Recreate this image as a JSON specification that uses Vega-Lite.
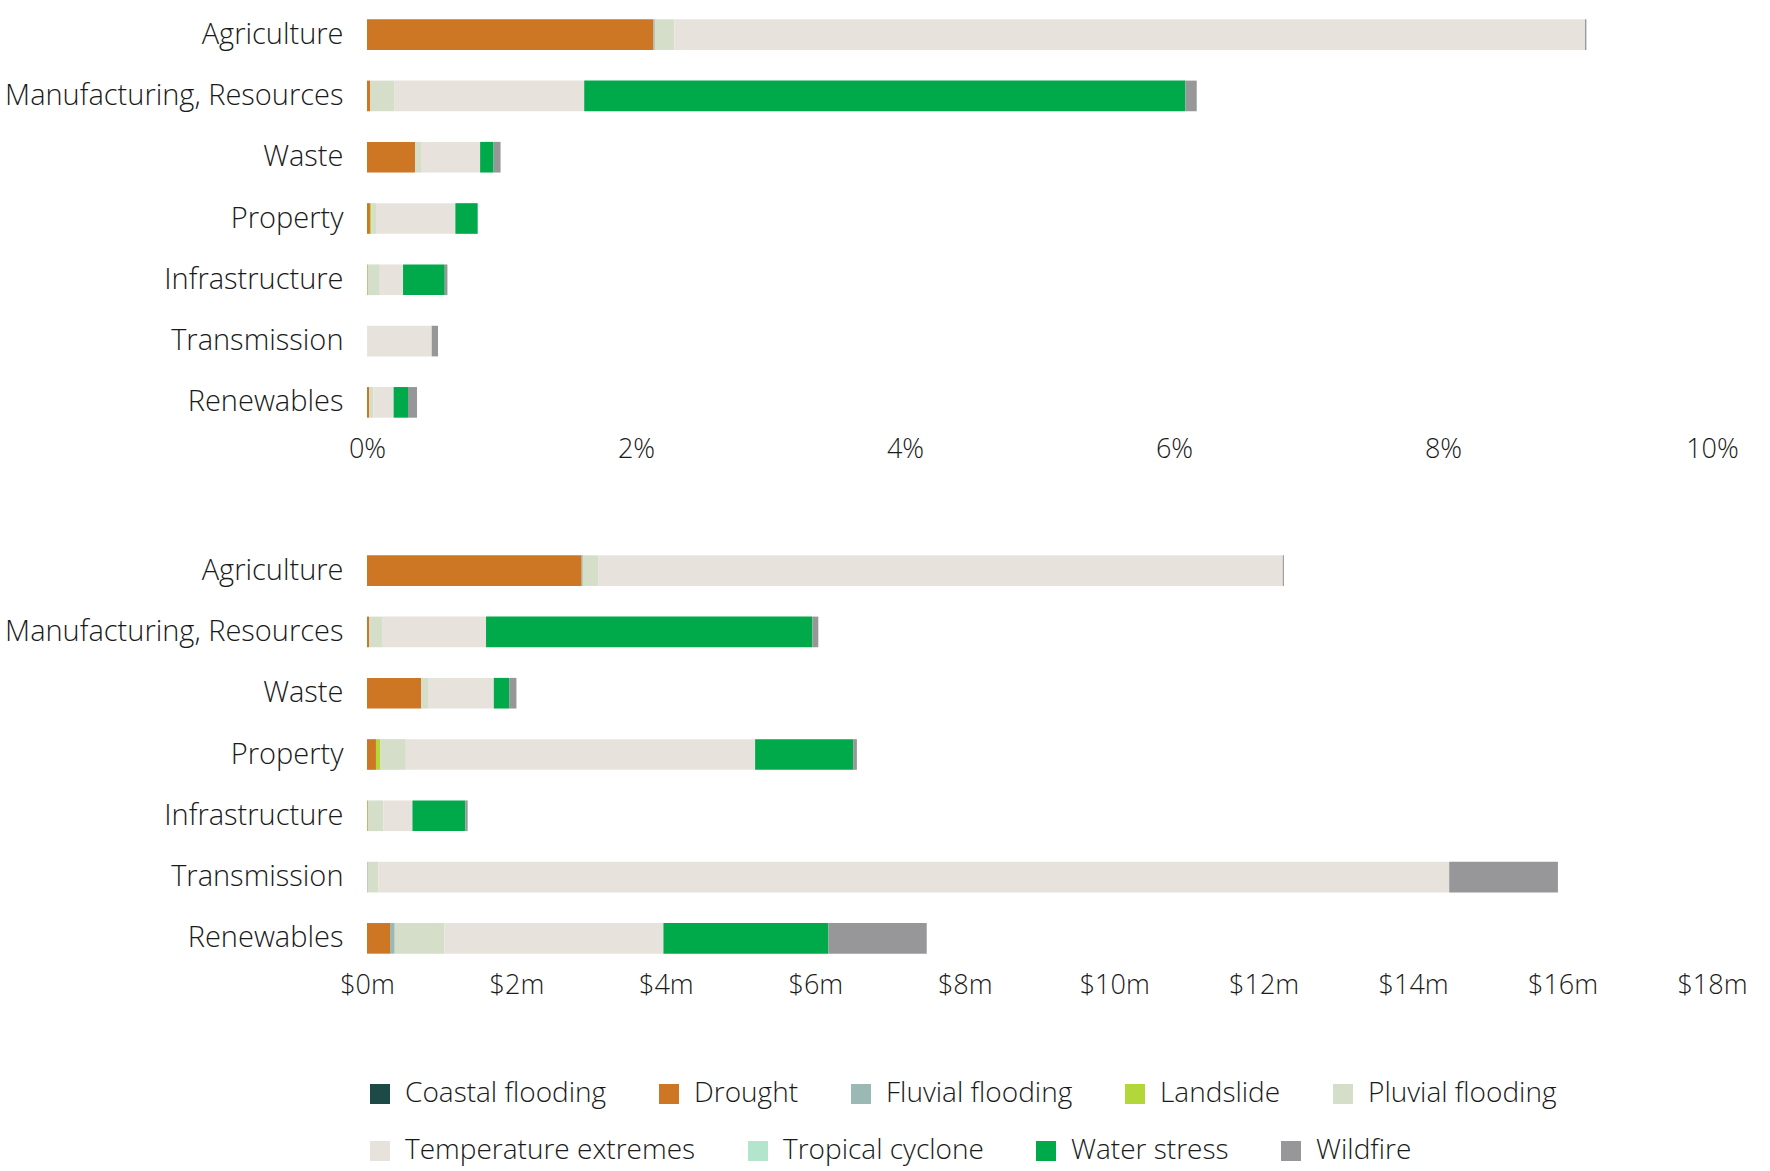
{
  "$schema": "https://vega.github.io/schema/vega-lite/v6.json",
  "padding": {"left": 4, "top": 4, "right": 0, "bottom": 14},
  "background": "white",
  "datasets": {
    "share": [
      {"sector": "Agriculture", "hazard": "Drought", "value": 2.13},
      {"sector": "Agriculture", "hazard": "Fluvial flooding", "value": 0.01},
      {"sector": "Agriculture", "hazard": "Pluvial flooding", "value": 0.146},
      {"sector": "Agriculture", "hazard": "Temperature extremes", "value": 6.77},
      {"sector": "Agriculture", "hazard": "Wildfire", "value": 0.01},
      {"sector": "Manufacturing, Resources", "hazard": "Drought", "value": 0.025},
      {"sector": "Manufacturing, Resources", "hazard": "Pluvial flooding", "value": 0.18},
      {"sector": "Manufacturing, Resources", "hazard": "Temperature extremes", "value": 1.41},
      {"sector": "Manufacturing, Resources", "hazard": "Water stress", "value": 4.47},
      {"sector": "Manufacturing, Resources", "hazard": "Wildfire", "value": 0.084},
      {"sector": "Waste", "hazard": "Drought", "value": 0.357},
      {"sector": "Waste", "hazard": "Pluvial flooding", "value": 0.05},
      {"sector": "Waste", "hazard": "Temperature extremes", "value": 0.434},
      {"sector": "Waste", "hazard": "Water stress", "value": 0.10},
      {"sector": "Waste", "hazard": "Wildfire", "value": 0.052},
      {"sector": "Property", "hazard": "Drought", "value": 0.022},
      {"sector": "Property", "hazard": "Landslide", "value": 0.01},
      {"sector": "Property", "hazard": "Pluvial flooding", "value": 0.035},
      {"sector": "Property", "hazard": "Temperature extremes", "value": 0.59},
      {"sector": "Property", "hazard": "Water stress", "value": 0.166},
      {"sector": "Infrastructure", "hazard": "Drought", "value": 0.005},
      {"sector": "Infrastructure", "hazard": "Pluvial flooding", "value": 0.09},
      {"sector": "Infrastructure", "hazard": "Temperature extremes", "value": 0.173},
      {"sector": "Infrastructure", "hazard": "Water stress", "value": 0.31},
      {"sector": "Infrastructure", "hazard": "Wildfire", "value": 0.02},
      {"sector": "Transmission", "hazard": "Pluvial flooding", "value": 0.005},
      {"sector": "Transmission", "hazard": "Temperature extremes", "value": 0.476},
      {"sector": "Transmission", "hazard": "Wildfire", "value": 0.047},
      {"sector": "Renewables", "hazard": "Drought", "value": 0.017},
      {"sector": "Renewables", "hazard": "Pluvial flooding", "value": 0.03},
      {"sector": "Renewables", "hazard": "Temperature extremes", "value": 0.151},
      {"sector": "Renewables", "hazard": "Water stress", "value": 0.107},
      {"sector": "Renewables", "hazard": "Wildfire", "value": 0.067}
    ],
    "cost": [
      {"sector": "Agriculture", "hazard": "Drought", "value": 2.873},
      {"sector": "Agriculture", "hazard": "Fluvial flooding", "value": 0.015},
      {"sector": "Agriculture", "hazard": "Pluvial flooding", "value": 0.205},
      {"sector": "Agriculture", "hazard": "Temperature extremes", "value": 9.163},
      {"sector": "Agriculture", "hazard": "Wildfire", "value": 0.015},
      {"sector": "Manufacturing, Resources", "hazard": "Drought", "value": 0.027},
      {"sector": "Manufacturing, Resources", "hazard": "Pluvial flooding", "value": 0.183},
      {"sector": "Manufacturing, Resources", "hazard": "Temperature extremes", "value": 1.383},
      {"sector": "Manufacturing, Resources", "hazard": "Water stress", "value": 4.367},
      {"sector": "Manufacturing, Resources", "hazard": "Wildfire", "value": 0.08},
      {"sector": "Waste", "hazard": "Drought", "value": 0.727},
      {"sector": "Waste", "hazard": "Pluvial flooding", "value": 0.09},
      {"sector": "Waste", "hazard": "Temperature extremes", "value": 0.88},
      {"sector": "Waste", "hazard": "Water stress", "value": 0.205},
      {"sector": "Waste", "hazard": "Wildfire", "value": 0.098},
      {"sector": "Property", "hazard": "Drought", "value": 0.12},
      {"sector": "Property", "hazard": "Landslide", "value": 0.06},
      {"sector": "Property", "hazard": "Pluvial flooding", "value": 0.339},
      {"sector": "Property", "hazard": "Temperature extremes", "value": 4.675},
      {"sector": "Property", "hazard": "Water stress", "value": 1.312},
      {"sector": "Property", "hazard": "Wildfire", "value": 0.05},
      {"sector": "Infrastructure", "hazard": "Drought", "value": 0.01},
      {"sector": "Infrastructure", "hazard": "Pluvial flooding", "value": 0.21},
      {"sector": "Infrastructure", "hazard": "Temperature extremes", "value": 0.388},
      {"sector": "Infrastructure", "hazard": "Water stress", "value": 0.709},
      {"sector": "Infrastructure", "hazard": "Wildfire", "value": 0.03},
      {"sector": "Transmission", "hazard": "Fluvial flooding", "value": 0.01},
      {"sector": "Transmission", "hazard": "Pluvial flooding", "value": 0.143},
      {"sector": "Transmission", "hazard": "Temperature extremes", "value": 14.33},
      {"sector": "Transmission", "hazard": "Wildfire", "value": 1.455},
      {"sector": "Renewables", "hazard": "Drought", "value": 0.308},
      {"sector": "Renewables", "hazard": "Fluvial flooding", "value": 0.063},
      {"sector": "Renewables", "hazard": "Pluvial flooding", "value": 0.665},
      {"sector": "Renewables", "hazard": "Temperature extremes", "value": 2.931},
      {"sector": "Renewables", "hazard": "Water stress", "value": 2.208},
      {"sector": "Renewables", "hazard": "Wildfire", "value": 1.316}
    ]
  },
  "spacing": 78,
  "resolve": {"scale": {"x": "independent"}},
  "vconcat": [
    {
      "width": 1345,
      "height": 429,
      "data": {"name": "share"},
      "mark": {"type": "bar"},
      "encoding": {
        "y": {
          "field": "sector", "type": "nominal",
          "sort": ["Agriculture", "Manufacturing, Resources", "Waste", "Property", "Infrastructure", "Transmission", "Renewables"],
          "scale": {"paddingInner": 0.5, "paddingOuter": 0.25},
          "axis": {"title": null}
        },
        "x": {
          "field": "value", "type": "quantitative", "stack": "zero",
          "scale": {"domain": [0, 10], "nice": false},
          "axis": {"title": null, "values": [0, 2, 4, 6, 8, 10], "labelExpr": "datum.value + '%'"}
        },
        "color": {
          "field": "hazard", "type": "nominal",
          "scale": {
            "domain": ["Coastal flooding", "Drought", "Fluvial flooding", "Landslide", "Pluvial flooding", "Temperature extremes", "Tropical cyclone", "Water stress", "Wildfire"],
            "range": ["#1d4a47", "#cd7724", "#9cb8b4", "#b3d63a", "#d4dec8", "#e8e2dc", "#b3e5cc", "#00a94a", "#97979a"]
          },
          "legend": {
            "title": null,
            "orient": "none",
            "legendX": -1,
            "legendY": 1076,
            "direction": "horizontal",
            "values": ["Coastal flooding", "Drought", "Fluvial flooding", "Landslide", "Pluvial flooding"],
            "columns": 5,
            "columnPadding": 48,
            "symbolType": "square",
            "symbolSize": 400,
            "symbolStrokeWidth": 0,
            "symbolOpacity": 1,
            "labelOffset": 11,
            "labelFontSize": 28,
            "labelLimit": 400,
            "padding": 0
          }
        },
        "order": {"field": "hazard", "sort": "ascending"}
      }
    },
    {
      "width": 1345,
      "height": 429,
      "data": {"name": "cost"},
      "mark": {"type": "bar"},
      "encoding": {
        "y": {
          "field": "sector", "type": "nominal",
          "sort": ["Agriculture", "Manufacturing, Resources", "Waste", "Property", "Infrastructure", "Transmission", "Renewables"],
          "scale": {"paddingInner": 0.5, "paddingOuter": 0.25},
          "axis": {"title": null}
        },
        "x": {
          "field": "value", "type": "quantitative", "stack": "zero",
          "scale": {"domain": [0, 18], "nice": false},
          "axis": {"title": null, "values": [0, 2, 4, 6, 8, 10, 12, 14, 16, 18], "labelExpr": "'$' + datum.value + 'm'"}
        },
        "fill": {
          "field": "hazard", "type": "nominal",
          "scale": {
            "domain": ["Temperature extremes", "Tropical cyclone", "Water stress", "Wildfire", "Coastal flooding", "Drought", "Fluvial flooding", "Landslide", "Pluvial flooding"],
            "range": ["#e8e2dc", "#b3e5cc", "#00a94a", "#97979a", "#1d4a47", "#cd7724", "#9cb8b4", "#b3d63a", "#d4dec8"]
          },
          "legend": {
            "title": null,
            "orient": "none",
            "legendX": -1,
            "legendY": 1133,
            "direction": "horizontal",
            "values": ["Temperature extremes", "Tropical cyclone", "Water stress", "Wildfire"],
            "columns": 4,
            "columnPadding": 48,
            "symbolType": "square",
            "symbolSize": 400,
            "symbolStrokeWidth": 0,
            "symbolOpacity": 1,
            "labelOffset": 11,
            "labelFontSize": 28,
            "labelLimit": 400,
            "padding": 0
          }
        },
        "order": {"field": "hazard", "sort": "ascending"}
      }
    }
  ],
  "config": {
    "font": "Open Sans",
    "view": {"stroke": null},
    "axis": {
      "domain": false,
      "ticks": false,
      "tickSize": 0,
      "grid": false,
      "labelFont": "Open Sans",
      "labelFontWeight": 300,
      "labelFontSize": 27,
      "labelColor": "#1a1a1a",
      "labelLimit": 500,
      "labelFlush": false,
      "labelOverlap": false
    },
    "axisY": {"labelPadding": 24, "labelFontSize": 29},
    "axisX": {"labelPadding": 3},
    "legend": {"labelFont": "Open Sans", "labelFontWeight": 300, "labelColor": "#1a1a1a"}
  }
}
